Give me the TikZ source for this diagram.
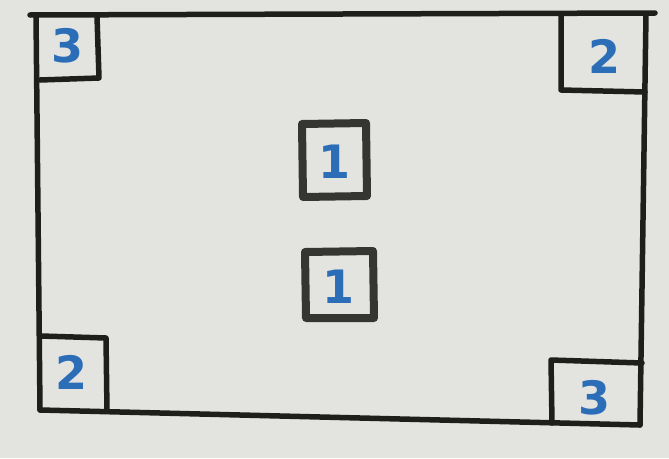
\documentclass[tikz,border=0pt]{standalone}
\usepackage{fontspec}
\setmainfont{DejaVu Sans}
\definecolor{board}{HTML}{E3E4E0}
\definecolor{ink}{HTML}{1E1E1A}
\definecolor{blueink}{HTML}{2C6DB8}
\begin{document}
\begin{tikzpicture}[x=1pt,y=-1pt,
  marker/.style={draw=ink,line width=5.5pt,line join=round,line cap=round},
  thickmarker/.style={draw=ink!90,line width=8pt,line join=round,line cap=round},
  num/.style={text=blueink,font=\fontsize{46}{46}\selectfont\bfseries,inner sep=0pt}]
\fill[board] (0,0) rectangle (669,458);
\useasboundingbox (0,0) rectangle (669,458);
% outer frame
\draw[marker] (30,15) -- (655,13);
\draw[marker] (36,15) -- (40,410);
\draw[marker] (40,410) -- (640,425);
\draw[marker] (646,14) -- (640,425);
% top-left box
\draw[marker] (97,16) -- (99,78) -- (40,80);
\node[num] (n3a) at (68,46) {3};
% top-right box
\draw[marker] (561,15) -- (561,90) -- (645,92);
\node[num] (n2a) at (604,56) {2};
% centre boxes
\draw[thickmarker] (302,124) -- (366,123) -- (367,196) -- (303,197) -- cycle;
\node[num] (n1a) at (334,162) {1};
\draw[thickmarker] (305,252) -- (373,251) -- (374,318) -- (306,318) -- cycle;
\node[num] (n1b) at (338,287) {1};
% bottom-left box
\draw[marker] (41,336) -- (106,338) -- (107,411);
\node[num] (n2b) at (72,372) {2};
% bottom-right box
\draw[marker] (552,423) -- (551,360) -- (642,363);
\node[num] (n3b) at (594,398) {3};
\end{tikzpicture}
\end{document}
